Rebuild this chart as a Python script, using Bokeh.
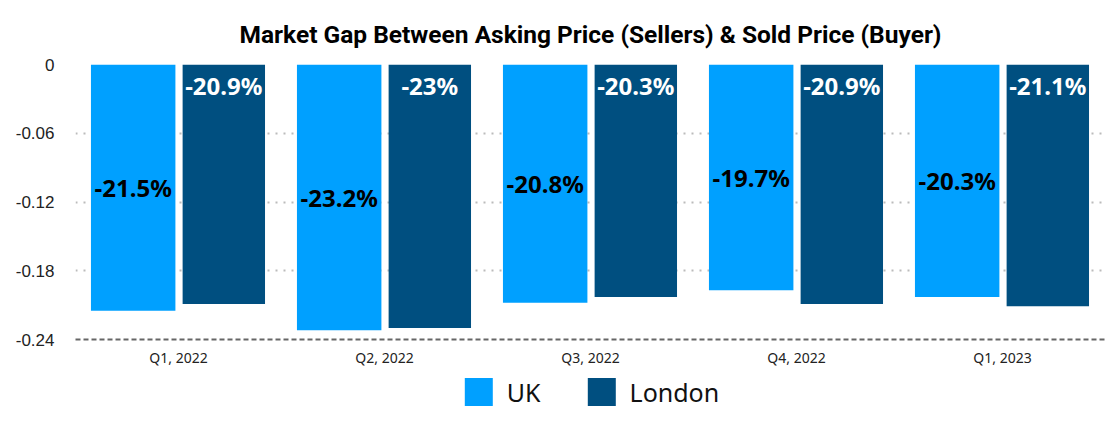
from bokeh.plotting import figure
from bokeh.layouts import column
from bokeh.models import ColumnDataSource, FactorRange, Range1d, FixedTicker, Legend, LegendItem
from bokeh.transform import dodge
from bokeh.core.properties import value
from bokeh.embed import file_html
from bokeh.resources import INLINE

# Quarterly gap between asking and sold prices (percent)
quarters = ["Q1, 2022", "Q2, 2022", "Q3, 2022", "Q4, 2022", "Q1, 2023"]
uk_pct = [-21.5, -23.2, -20.8, -19.7, -20.3]
london_pct = [-20.9, -23.0, -20.3, -20.9, -21.1]
y_ticks = [0, -0.06, -0.12, -0.18, -0.24]
y_tick_labels = ["0", "-0.06", "-0.12", "-0.18", "-0.24"]
series_names = ["UK", "London"]

UK_COLOR = "#00A0FF"
LONDON_COLOR = "#004F80"


def pct_label(v):
    s = f"{v:.1f}"
    if s.endswith(".0"):
        s = s[:-2]
    return s + "%"


source = ColumnDataSource(data=dict(
    quarter=quarters,
    uk=[v / 100 for v in uk_pct],
    london=[v / 100 for v in london_pct],
    uk_mid=[v / 200 for v in uk_pct],
    zero=[0.0] * len(quarters),
    uk_text=[pct_label(v) for v in uk_pct],
    london_text=[pct_label(v) for v in london_pct],
))

p = figure(
    width=1114, height=369,
    x_range=FactorRange(*quarters),
    y_range=Range1d(y_ticks[-1], y_ticks[0]),
    output_backend="svg", toolbar_location=None,
    min_border_left=75, min_border_right=9,
    min_border_top=64, min_border_bottom=30,
)

p.title.text = "Market Gap Between Asking Price (Sellers) & Sold Price (Buyer)"
p.title.align = "center"
p.title.text_font = "Roboto"
p.title.text_font_style = "bold"
p.title.text_font_size = "24.5px"
p.title.text_color = "#000000"
p.title.standoff = 32

uk_bars = p.vbar(x=dodge("quarter", -0.22, range=p.x_range), top="uk", bottom=0,
                 width=0.41, source=source, color=UK_COLOR, line_color=None)
ldn_bars = p.vbar(x=dodge("quarter", 0.22, range=p.x_range), top="london", bottom=0,
                  width=0.40, source=source, color=LONDON_COLOR, line_color=None)

# Value labels: UK centred in the bar, London near the top of the bar
p.text(x=dodge("quarter", -0.22, range=p.x_range), y="uk_mid", text="uk_text",
       source=source, text_align="center", text_baseline="middle",
       text_font=value("Noto Sans"), text_font_style="bold",
       text_font_size="24px", text_color="#000000")
p.text(x=dodge("quarter", 0.22, range=p.x_range), y="zero", text="london_text",
       source=source, text_align="center", text_baseline="middle", y_offset=21,
       text_font=value("Noto Sans"), text_font_style="bold",
       text_font_size="24px", text_color="#FFFFFF")

# Axes
p.yaxis.ticker = FixedTicker(ticks=y_ticks)
p.yaxis.major_label_overrides = {t: l for t, l in zip(y_ticks, y_tick_labels)}
p.yaxis.axis_line_color = None
p.yaxis.major_tick_line_color = None
p.yaxis.major_tick_out = 0
p.yaxis.minor_tick_line_color = None
p.yaxis.major_label_text_font = "Liberation Sans"
p.yaxis.major_label_text_font_size = "17px"
p.yaxis.major_label_text_color = "#222222"
p.yaxis.major_label_standoff = 21

p.xaxis.axis_line_color = "#666666"
p.xaxis.axis_line_width = 2
p.xaxis.axis_line_dash = "5 3"
p.xaxis.major_tick_line_color = None
p.xaxis.major_tick_out = 0
p.xaxis.minor_tick_line_color = None
p.xaxis.major_label_text_font = "Noto Sans"
p.xaxis.major_label_text_font_size = "14px"
p.xaxis.major_label_text_color = "#222222"
p.xaxis.major_label_standoff = 8

p.xgrid.grid_line_color = None
p.ygrid.grid_line_color = "#BBBBBB"
p.ygrid.grid_line_width = 2
p.ygrid.grid_line_dash = "2 6"

p.outline_line_color = None

# Legend strip under the chart; its swatch renderers share the bar data but
# fall outside this strip's visible range, so only the legend shows
leg = figure(
    width=1114, height=73,
    x_range=FactorRange(*quarters), y_range=Range1d(0, 1),
    x_axis_type=None, y_axis_type=None,
    output_backend="svg", toolbar_location=None,
    min_border_left=68, min_border_right=0, min_border_top=0, min_border_bottom=0,
)
leg.grid.visible = False
leg.outline_line_color = None
uk_swatch = leg.vbar(x="quarter", top="uk", bottom=0, width=0.4, source=source,
                     color=UK_COLOR, line_color=None)
ldn_swatch = leg.vbar(x="quarter", top="london", bottom=0, width=0.4, source=source,
                      color=LONDON_COLOR, line_color=None)

legend = Legend(
    items=[LegendItem(label=series_names[0], renderers=[uk_swatch]),
           LegendItem(label=series_names[1], renderers=[ldn_swatch])],
    orientation="horizontal", location="top_center",
    glyph_width=35, glyph_height=35, label_standoff=11, spacing=43,
    label_text_font="Noto Sans", label_text_font_size="25px",
    label_text_color="#111111", border_line_color=None,
    background_fill_alpha=0, padding=4, margin=5,
)
leg.add_layout(legend, "center")

open("out.html", "w").write(file_html(column(p, leg), INLINE))
